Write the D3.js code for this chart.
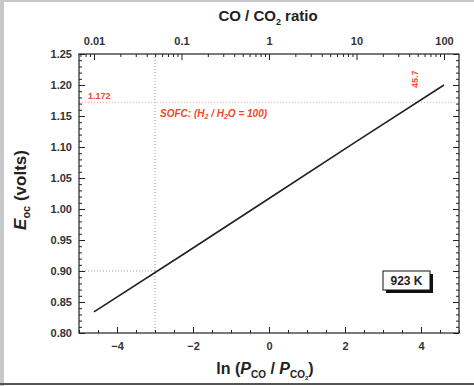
<!DOCTYPE html>
<html><head><meta charset="utf-8">
<script src="https://cdn.jsdelivr.net/npm/d3@7"></script>
<style>body{margin:0;background:#fff}svg{display:block}text{font-family:"Liberation Sans",Arial,sans-serif}</style>
</head><body><svg id="c" width="474" height="386"></svg>
<script>
// data
const coRatio = [0.01, 0.1, 1, 10, 100];
const eocVolts = [0.834, 0.925, 1.017, 1.109, 1.200];
const bottomTicks = [-4, -2, 0, 2, 4];
const topTicks = [0.01, 0.1, 1, 10, 100];
const topTickLabels = ["0.01", "0.1", "1", "10", "100"];
const yTicks = [0.80, 0.85, 0.90, 0.95, 1.00, 1.05, 1.10, 1.15, 1.20, 1.25];
const sofcE = [1.172];
const sofcRatio = [45.7];
const refLn = [-3];
const refE = [0.90];
const tempLabel = ["923 K"];

const svg = d3.select("#c");
const L = 79, R = 459, T = 54, B = 333;
const x = d3.scaleLinear().domain([-5, 5]).range([L, R]);
const xTop = d3.scaleLog().domain([Math.exp(-5), Math.exp(5)]).range([L, R]);
const y = d3.scaleLinear().domain([0.80, 1.25]).range([B, T]);

// scan border
svg.append("rect").attr("x",0).attr("y",0).attr("width",474).attr("height",386).attr("fill","#fff");
svg.append("rect").attr("x",0).attr("y",0).attr("width",4).attr("height",386).attr("fill","#c8c8c8");
svg.append("rect").attr("x",0).attr("y",0).attr("width",474).attr("height",2).attr("fill","#c8c8c8");
svg.append("rect").attr("x",0).attr("y",383).attr("width",474).attr("height",2).attr("fill","#555");

const tickCol = "#222";
// gray reference lines
svg.append("line").attr("x1",x(refLn[0])).attr("x2",x(refLn[0])).attr("y1",T).attr("y2",B)
  .attr("stroke","#999").attr("stroke-width",1).attr("stroke-dasharray","1,2");
svg.append("line").attr("x1",L).attr("x2",x(refLn[0])).attr("y1",y(refE[0])).attr("y2",y(refE[0]))
  .attr("stroke","#999").attr("stroke-width",1).attr("stroke-dasharray","1,2");
// red reference line
const red = "#ec4a2c";
svg.append("line").attr("x1",L).attr("x2",R).attr("y1",y(sofcE[0])).attr("y2",y(sofcE[0]))
  .attr("stroke",red).attr("stroke-width",1).attr("stroke-dasharray","1,2").attr("opacity",0.45);

// axes
const gB = svg.append("g").attr("transform",`translate(0,${B})`)
  .call(d3.axisBottom(x).tickValues(bottomTicks).tickSize(-6).tickPadding(9).tickFormat(d3.format("d")));
const gBm = svg.append("g").attr("transform",`translate(0,${B})`)
  .call(d3.axisBottom(x).tickValues(d3.range(-5,5.01,0.5)).tickSize(-3).tickFormat(""));
const gT = svg.append("g").attr("transform",`translate(0,${T})`)
  .call(d3.axisTop(xTop).tickValues(topTicks).tickSize(-6).tickPadding(9).tickFormat((d,i)=>topTickLabels[i]));
const minorLog = [];
[0.001,0.01,0.1,1,10,100].forEach(b=>{for(let k=2;k<=9;k++){const v=b*k; if(v>xTop.domain()[0]&&v<xTop.domain()[1]) minorLog.push(v);}});
const gTm = svg.append("g").attr("transform",`translate(0,${T})`)
  .call(d3.axisTop(xTop).tickValues(minorLog).tickSize(-3).tickFormat(""));
const gL = svg.append("g").attr("transform",`translate(${L},0)`)
  .call(d3.axisLeft(y).tickValues(yTicks).tickSize(-6).tickPadding(7).tickFormat(d3.format(".2f")));
const minorY = d3.range(80,126,1).map(v=>v/100);
const gLm = svg.append("g").attr("transform",`translate(${L},0)`)
  .call(d3.axisLeft(y).tickValues(minorY).tickSize(-3).tickFormat(""));
const gR = svg.append("g").attr("transform",`translate(${R},0)`)
  .call(d3.axisRight(y).tickValues(yTicks).tickSize(-6).tickFormat(""));
const gRm = svg.append("g").attr("transform",`translate(${R},0)`)
  .call(d3.axisRight(y).tickValues(minorY).tickSize(-3).tickFormat(""));
[gB,gBm,gT,gTm,gL,gLm,gR,gRm].forEach(g=>{
  g.selectAll(".domain").remove();
  g.selectAll("line").attr("stroke",tickCol).attr("stroke-width",1);
  g.selectAll("text").attr("fill","#333").attr("font-size",11).attr("font-weight","bold")
    .attr("font-family","'Liberation Sans',Arial,sans-serif");
});
// frame
svg.append("rect").attr("x",L).attr("y",T).attr("width",R-L).attr("height",B-T)
  .attr("fill","none").attr("stroke",tickCol).attr("stroke-width",1.2);

// data line
const pts = coRatio.map((r,i)=>[Math.log(r), eocVolts[i]]);
svg.append("path").datum(pts)
  .attr("d", d3.line().x(d=>x(d[0])).y(d=>y(d[1])))
  .attr("fill","none").attr("stroke","#222").attr("stroke-width",1.6);

// annotations
svg.append("text").attr("x",88).attr("y",y(sofcE[0])-3).attr("fill",red).attr("font-size",9)
  .attr("font-weight","bold").text(sofcE[0].toFixed(3));
const sofc = svg.append("text").attr("x",160).attr("y",117).attr("fill",red).attr("font-size",10)
  .attr("font-weight","bold").attr("font-style","italic");
sofc.append("tspan").text("SOFC: (H");
sofc.append("tspan").attr("font-size",7).attr("dy",2).text("2");
sofc.append("tspan").attr("dy",-2).text(" / H");
sofc.append("tspan").attr("font-size",7).attr("dy",2).text("2");
sofc.append("tspan").attr("dy",-2).text("O = 100)");
const xs = x(Math.log(sofcRatio[0]));
svg.append("text").attr("transform",`translate(${xs+4},${88}) rotate(-90)`).attr("fill",red)
  .attr("font-size",9).attr("font-weight","bold").text(String(sofcRatio[0]));

// temperature box
svg.append("rect").attr("x",386).attr("y",274).attr("width",47).attr("height",19).attr("fill","#111");
svg.append("rect").attr("x",383).attr("y",271).attr("width",47).attr("height",19).attr("fill","#fff")
  .attr("stroke","#111").attr("stroke-width",1);
svg.append("text").attr("x",406.5).attr("y",285).attr("text-anchor","middle").attr("font-size",12)
  .attr("font-weight","bold").attr("fill","#222").text(tempLabel[0]);

// titles
const tt = svg.append("text").attr("x",268).attr("y",21).attr("text-anchor","middle")
  .attr("font-size",15).attr("font-weight","bold").attr("fill","#222");
tt.append("tspan").text("CO / CO");
tt.append("tspan").attr("font-size",9).attr("dy",4).text("2");
tt.append("tspan").attr("dy",-4).text(" ratio");

const bt = svg.append("text").attr("x",265).attr("y",374).attr("text-anchor","middle")
  .attr("font-size",16).attr("font-weight","bold").attr("fill","#222");
bt.append("tspan").text("ln (");
bt.append("tspan").attr("font-style","italic").text("P");
bt.append("tspan").attr("font-size",10).attr("dy",4).text("CO");
bt.append("tspan").attr("dy",-4).text(" / ");
bt.append("tspan").attr("font-style","italic").text("P");
bt.append("tspan").attr("font-size",10).attr("dy",4).text("CO");
bt.append("tspan").attr("font-size",6).attr("dy",2).text("2");
bt.append("tspan").attr("dy",-6).text(")");

const yl = svg.append("text").attr("transform","translate(26,190) rotate(-90)").attr("text-anchor","middle")
  .attr("font-size",17).attr("font-weight","bold").attr("fill","#222");
yl.append("tspan").attr("font-style","italic").text("E");
yl.append("tspan").attr("font-size",11).attr("dy",4).text("oc");
yl.append("tspan").attr("dy",-4).text(" (volts)");
</script></body></html>
